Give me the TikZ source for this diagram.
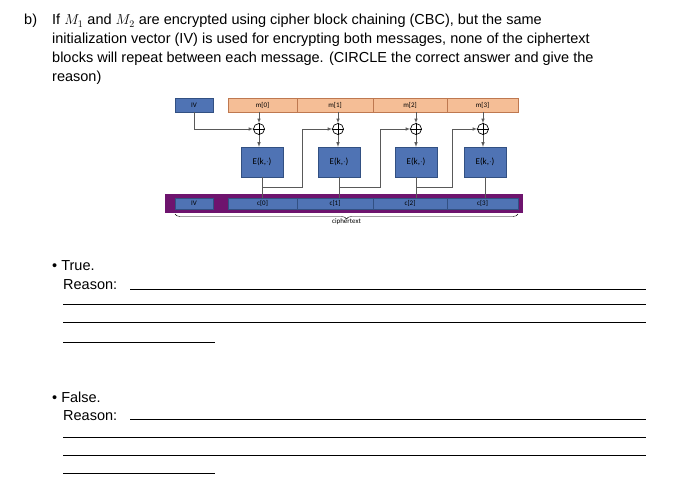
\documentclass[tikz,border=0pt]{standalone}
\usepackage{fontspec}
\setmainfont{Liberation Sans}
\newfontfamily\carl{Carlito}
\usetikzlibrary{decorations.pathreplacing}
\definecolor{bluebox}{RGB}{79,115,180}
\definecolor{blueedge}{RGB}{50,80,130}
\definecolor{orangebox}{RGB}{245,190,150}
\definecolor{orangeedge}{RGB}{190,120,80}
\definecolor{purplebar}{RGB}{110,20,110}
\begin{document}
\begin{tikzpicture}[x=1pt,y=-1pt,
 blk/.style={draw=blueedge,fill=bluebox,font=\carl\fontsize{7}{8}\selectfont,inner sep=0},
 mb/.style={draw=orangeedge,fill=orangebox,font=\carl\fontsize{7}{8}\selectfont,inner sep=0},
 ln/.style={draw=gray!70!black,line width=0.6pt},
 ul/.style={line width=0.6pt},
 txt/.style={anchor=base west,font=\fontsize{14.5}{17}\selectfont,inner sep=0}]
\useasboundingbox (0,0) rectangle (696,497);
\node[txt] (b) at (24,25) {b)};
\node[txt] (q1) at (52,25) {If $M_1$ and $M_2$ are encrypted using cipher block chaining (CBC), but the same};
\node[txt] (q2) at (52,44) {initialization vector (IV) is used for encrypting both messages, none of the ciphertext};
\node[txt] (q3) at (52,63) {blocks will repeat between each message. (CIRCLE the correct answer and give the};
\node[txt] (q4) at (52,82) {reason)};
% diagram
\fill[purplebar] (165,194) rectangle (523,213);
\node[blk,minimum width=38,minimum height=14] (ivt) at (194,105) {IV};
\node[blk,minimum width=38,minimum height=11] (ivb) at (194,203.5) {IV};
\foreach \a/\b/\i in {228/297/0,297/373/1,373/447/2,447/518/3}{
 \node[mb,minimum width=\b-\a,minimum height=14] (m\i) at ({(\a+\b)/2},105) {m[\i]};
 \node[blk,minimum width=\b-\a,minimum height=11] (c\i) at ({(\a+\b)/2},203.5) {c[\i]};}
\foreach \x/\ex/\i in {259/262/0,338/339/1,416/416/2,483/485/3}{
 \node[draw,circle,minimum size=11,inner sep=0,line width=0.7pt] (x\i) at (\x,129) {};
 \draw[line width=0.7pt] (x\i.north)--(x\i.south) (x\i.west)--(x\i.east);
 \node[blk,text=black,minimum width=42,minimum height=30,font=\carl\fontsize{9}{10}\selectfont] (e\i) at (\ex,162) {E(k,$\cdot$)};
 \draw[ln,->,>=latex] (m\i.south -| x\i) -- (x\i);
 \draw[ln,->,>=latex] (x\i) -- (x\i|-e\i.north);
 \draw[ln] (e\i.south) -- (e\i.south|-c\i.north);}
\draw[ln,->,>=latex] (ivt.south) |- (x0.west);
\foreach \i/\j/\t in {0/1/302,1/2/380,2/3/452}{
 \draw[ln,->,>=latex] (e\i.south|-0,187) -- (\t,187) |- (x\j.west);}
\draw[decorate,decoration={brace,mirror,amplitude=5pt}] (175,214) -- (518,214) node[midway,below=4pt,font=\carl\fontsize{7}{8}\selectfont,inner sep=0] (ct) {ciphertext};
% answers
\node[txt] (t1) at (52,270) {\textbullet\ True.};
\node[txt] (r1) at (63,289) {Reason:};
\node[txt] (f1) at (52,402) {\textbullet\ False.};
\node[txt] (r2) at (63,420) {Reason:};
\draw[ul] (130,289)--(646,289) (63,304)--(646,304) (63,322)--(646,322) (63,342)--(215,342);
\draw[ul] (130,419)--(646,419) (63,437)--(646,437) (63,455)--(646,455) (63,473)--(215,473);
\end{tikzpicture}
\end{document}
